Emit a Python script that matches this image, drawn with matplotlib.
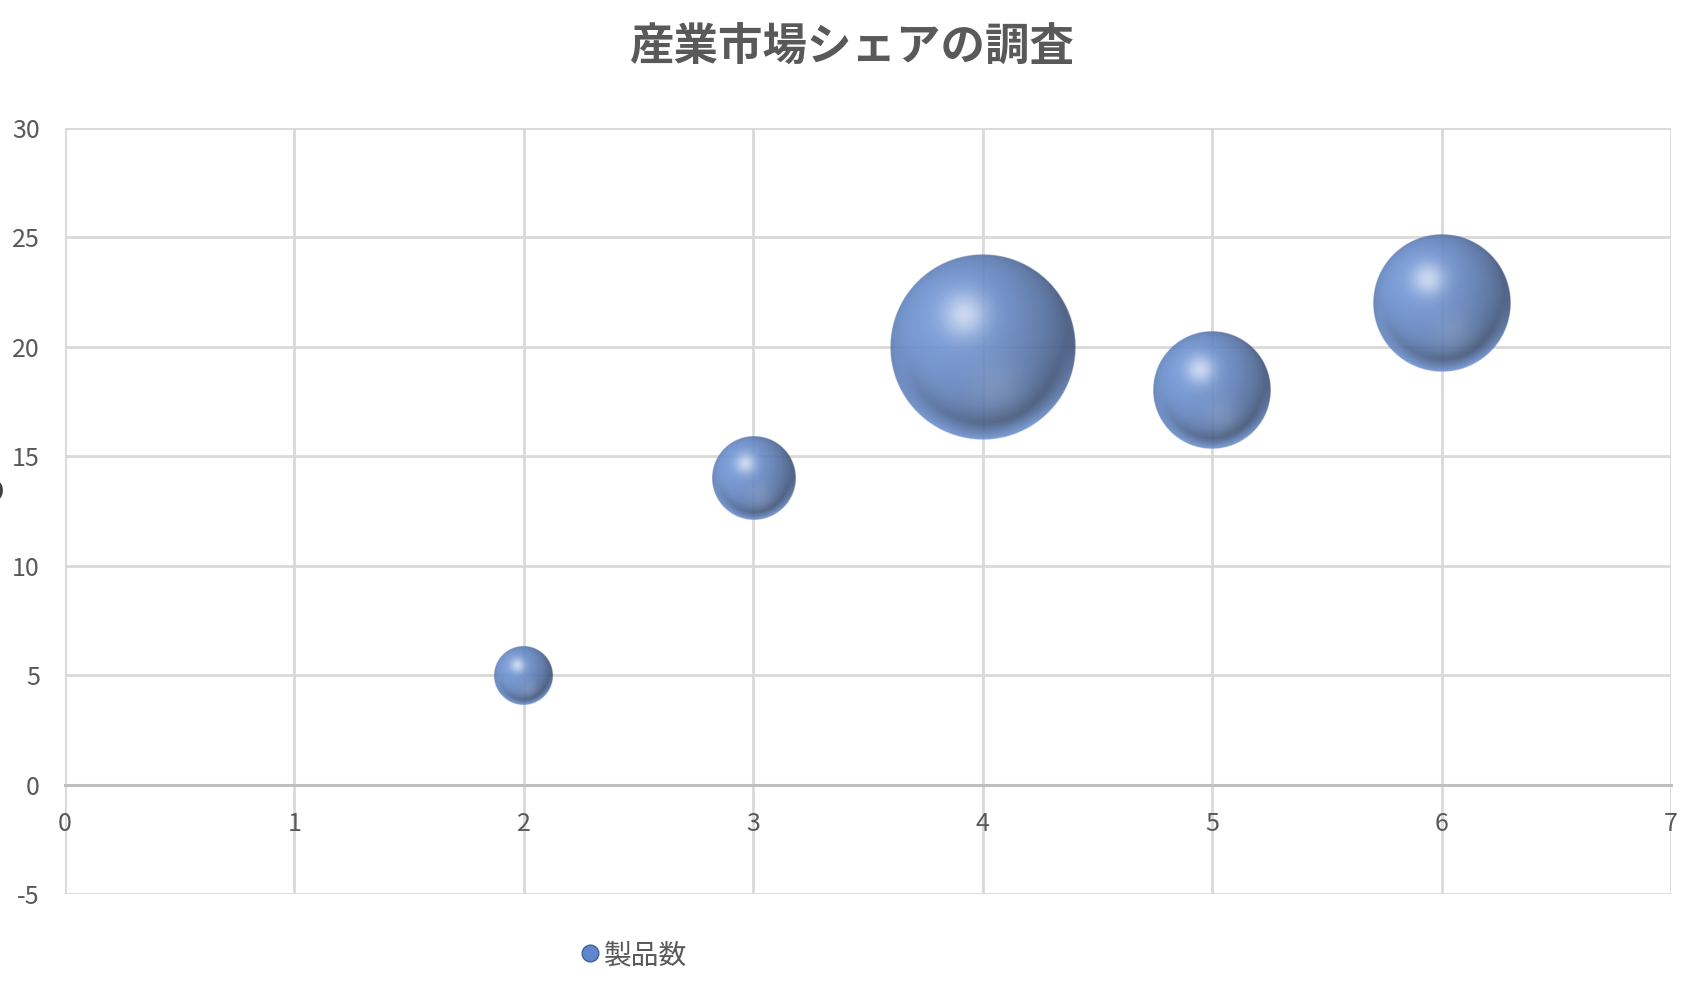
import numpy as np
import matplotlib
matplotlib.use("Agg")
import matplotlib.pyplot as plt
from matplotlib.lines import Line2D

plt.rcParams['font.family'] = ['Noto Sans CJK JP', 'DejaVu Sans']
plt.rcParams['axes.unicode_minus'] = False

# ---- data ----
title = "産業市場シェアの調査"
series_name = "製品数"
x_vals = [2, 3, 4, 5, 6]
y_vals = [5, 14, 20, 18, 22]
bubble_sizes = [1, 2, 10, 4, 5.5]
x_ticks = [0, 1, 2, 3, 4, 5, 6, 7]
y_ticks = [-5, 0, 5, 10, 15, 20, 25, 30]

W, H, DPI = 16.96, 9.93, 100
fig = plt.figure(figsize=(W, H), dpi=DPI)
L, R, B, T = 65 / 1696, 1671 / 1696, 1 - 894 / 993, 1 - 128 / 993
ax = fig.add_axes([L, B, R - L, T - B])

xmin, xmax, ymin, ymax = 0, 7, -5, 30
ax.set_xlim(xmin, xmax)
ax.set_ylim(ymin, ymax)

grid_c = '#d9d9d9'
ax.set_xticks(x_ticks)
ax.set_yticks(y_ticks)
ax.grid(True, color=grid_c, lw=2.0, zorder=0)
for s in ['top', 'right', 'left']:
    ax.spines[s].set_visible(False)
ax.spines['bottom'].set_position(('data', 0))
ax.spines['bottom'].set_color('#bfbfbf')
ax.spines['bottom'].set_linewidth(2.2)
ax.spines['bottom'].set_zorder(1)
ax.tick_params(axis='both', length=0, labelcolor='#595959', labelsize=18)
ax.tick_params(axis='x', pad=19)
ax.tick_params(axis='y', pad=18)
ax.set_axisbelow(True)


def sphere_rgba(n=400):
    u = np.linspace(-1, 1, n)
    v = np.linspace(1, -1, n)
    U, V = np.meshgrid(u, v)
    d2 = U ** 2 + V ** 2
    d = np.sqrt(d2)
    Z = np.sqrt(np.clip(1 - d2, 0, 1))
    base = np.array([0.43, 0.58, 0.84])
    Ld = np.array([-0.45, 0.35, 0.82])
    Ld = Ld / np.linalg.norm(Ld)
    diff = np.clip(U * Ld[0] + V * Ld[1] + Z * Ld[2], 0, 1)
    col = base[None, None, :] * (0.58 + 0.42 * diff[..., None])
    h = np.exp(-((U + 0.2) ** 2 + (V - 0.35) ** 2) / (2 * 0.17 ** 2))
    col = col + (1 - col) * 0.6 * h[..., None]
    h2 = np.exp(-((U - 0.15) ** 2 + (V + 0.45) ** 2) / (2 * 0.22 ** 2))
    col = col + (1 - col) * 0.12 * h2[..., None]
    band = np.exp(-((d - 0.8) ** 2) / (2 * 0.08 ** 2)) * np.clip(-V, 0, 1)
    col = col * (1 - 0.12 * band[..., None])
    rim = np.clip((d - 0.82) / 0.18, 0, 1) * np.clip(-V * 1.2, 0, 1)
    rimc = np.array([0.50, 0.66, 0.95])
    col = col * (1 - 0.75 * rim[..., None]) + rimc * 0.75 * rim[..., None]
    col = np.clip(col, 0, 1)
    alpha = np.clip((1 - d) * n / 2.5, 0, 1) * 0.9
    return np.dstack([col, alpha])


img = sphere_rgba()
r_max_px = 93.0
ax_w_px = (R - L) * W * DPI
ax_h_px = (T - B) * H * DPI
px_x = ax_w_px / (xmax - xmin)
px_y = ax_h_px / (ymax - ymin)
smax = max(bubble_sizes)
for xv, yv, sz in zip(x_vals, y_vals, bubble_sizes):
    r = r_max_px * np.sqrt(sz / smax)
    rx, ry = r / px_x, r / px_y
    ax.imshow(img, extent=[xv - rx, xv + rx, yv - ry, yv + ry],
              interpolation='bilinear', zorder=3, aspect='auto')

ax.set_xlim(xmin, xmax)
ax.set_ylim(ymin, ymax)
ax.set_aspect('auto')

fig.text(852 / 1696, 1 - 47 / 993, title, ha='center', va='center',
         fontsize=32, fontweight='bold', color='#595959')

handle = Line2D([], [], marker='o', ls='', markersize=12,
                markerfacecolor='#5f86cc', markeredgecolor='#40619e', markeredgewidth=1)
fig.legend(handles=[handle], labels=[series_name], loc='center',
           bbox_to_anchor=(633 / 1696, 1 - 955 / 993), frameon=False,
           fontsize=20, labelcolor='#595959', handletextpad=0.1, handlelength=0.8)

fig.text(0.0025, 1 - 493 / 993, 'O', ha='right', va='center', fontsize=20,
         color='#404040', fontweight='bold')

fig.savefig('out.png', dpi=DPI)
